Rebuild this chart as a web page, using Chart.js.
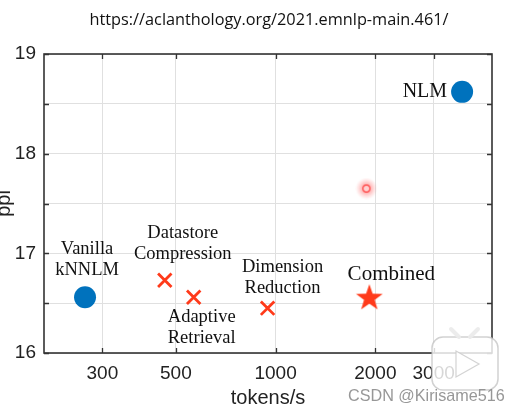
<!DOCTYPE html>
<html>
<head>
<meta charset="utf-8">
<script src="https://cdn.jsdelivr.net/npm/chart.js@4.4.1/dist/chart.umd.min.js"></script>
<style>
  html, body { margin: 0; padding: 0; background: #fff; }
  canvas { display: block; }
</style>
</head>
<body>
<canvas id="chart" width="521" height="412"></canvas>
<script>
// values (x = tokens/s, y = ppl)
const baselineNames = [["Vanilla", "kNNLM"], ["NLM"]];
const baselineSpeed = [266, 3656];
const baselinePpl = [16.56, 18.62];

const methodNames = [["Datastore", "Compression"], ["Adaptive", "Retrieval"], ["Dimension", "Reduction"]];
const methodSpeed = [463, 566, 946];
const methodPpl = [16.73, 16.56, 16.45];

const combinedNames = [["Combined"]];
const combinedSpeed = [1919];
const combinedPpl = [16.56];

// laser pointer dot visible on the slide
const pointerSpeed = [1880];
const pointerPpl = [17.65];

const xTicks = [300, 500, 1000, 2000, 3000];
const yMin = 16, yMax = 19;

// label placement relative to each marker: [dx, dy of first line, align, font size]
const baselineLabelPos = [[2, -48, "center", 18.5], [-15, 0, "right", 20]];
const methodLabelPos = [[18, -47, "center", 18.5], [8, 20, "center", 18.5], [15, -41, "center", 18.5]];
const combinedLabelPos = [[22, -23, "center", 21]];

const BLUE = "#0072BD";
const RED = "#FF3A1A";
const SERIF = "'Liberation Serif', 'DejaVu Serif', serif";
const SANS = "'Liberation Sans', Arial, sans-serif";

function makeStar(size, color) {
  const c = document.createElement("canvas");
  c.width = size; c.height = size;
  const g = c.getContext("2d");
  const cx = size / 2, cy = size / 2 + 1, R = size / 2, r = R * 0.4;
  g.beginPath();
  for (let i = 0; i < 10; i++) {
    const rad = i % 2 === 0 ? R : r;
    const a = -Math.PI / 2 + i * Math.PI / 5;
    g.lineTo(cx + rad * Math.cos(a), cy + rad * Math.sin(a));
  }
  g.closePath();
  g.fillStyle = color;
  g.fill();
  return c;
}

function makePointer(size) {
  const c = document.createElement("canvas");
  c.width = size; c.height = size;
  const g = c.getContext("2d");
  const m = size / 2;
  const grad = g.createRadialGradient(m, m, 2, m, m, m);
  grad.addColorStop(0, "rgba(255,60,60,0.55)");
  grad.addColorStop(1, "rgba(255,120,120,0)");
  g.fillStyle = grad;
  g.fillRect(0, 0, size, size);
  g.beginPath();
  g.arc(m, m, 3, 0, Math.PI * 2);
  g.lineWidth = 1.8;
  g.strokeStyle = "#ff2020";
  g.stroke();
  g.fillStyle = "#ffd0d0";
  g.fill();
  return c;
}

const toPoints = (xs, ys) => xs.map((x, i) => ({ x: x, y: ys[i] }));

const decorations = {
  id: "decorations",
  afterDraw(chart) {
    const { ctx, chartArea: a, scales } = chart;
    const xs = scales.x, ys = scales.y;
    ctx.save();

    // inward ticks and the box
    ctx.strokeStyle = "#333";
    ctx.lineWidth = 1.3;
    ctx.beginPath();
    xTicks.forEach(v => {
      const px = Math.round(xs.getPixelForValue(v)) + 0.5;
      ctx.moveTo(px, a.bottom); ctx.lineTo(px, a.bottom - 5);
      ctx.moveTo(px, a.top); ctx.lineTo(px, a.top + 5);
    });
    for (let v = yMin; v <= yMax; v += 0.5) {
      const py = Math.round(ys.getPixelForValue(v)) + 0.5;
      ctx.moveTo(a.left, py); ctx.lineTo(a.left + 5, py);
      ctx.moveTo(a.right, py); ctx.lineTo(a.right - 5, py);
    }
    ctx.stroke();
    ctx.lineWidth = 1.6;
    ctx.strokeRect(a.left, a.top, a.right - a.left, a.bottom - a.top);

    // point labels
    ctx.fillStyle = "#111";
    ctx.textBaseline = "middle";
    const label = (names, sx, sy, pos) => {
      names.forEach((lines, i) => {
        const px = xs.getPixelForValue(sx[i]);
        const py = ys.getPixelForValue(sy[i]);
        const [dx, dy, align, size] = pos[i];
        ctx.font = size + "px " + SERIF;
        ctx.textAlign = align;
        lines.forEach((t, k) => ctx.fillText(t, px + dx, py + dy + k * 21));
      });
    };
    label(baselineNames, baselineSpeed, baselinePpl, baselineLabelPos);
    label(methodNames, methodSpeed, methodPpl, methodLabelPos);
    label(combinedNames, combinedSpeed, combinedPpl, combinedLabelPos);

    // slide source link
    ctx.font = "16.3px 'Open Sans', " + SANS;
    ctx.fillStyle = "#111";
    ctx.textAlign = "center";
    ctx.fillText("https://aclanthology.org/2021.emnlp-main.461/", 269, 20);

    // video player overlay
    ctx.fillStyle = "rgba(255,255,255,0.82)";
    ctx.strokeStyle = "rgba(190,190,190,0.7)";
    ctx.lineWidth = 1.5;
    ctx.beginPath();
    ctx.roundRect(432, 337, 66, 53, 11);
    ctx.fill(); ctx.stroke();
    ctx.lineWidth = 4;
    ctx.lineCap = "round";
    ctx.strokeStyle = "rgba(235,235,235,0.95)";
    ctx.beginPath();
    ctx.moveTo(451, 329); ctx.lineTo(459, 337);
    ctx.moveTo(478, 329); ctx.lineTo(470, 337);
    ctx.stroke();
    ctx.beginPath();
    ctx.moveTo(456, 351); ctx.lineTo(456, 377); ctx.lineTo(479, 364); ctx.closePath();
    ctx.fillStyle = "rgba(255,255,255,0.95)";
    ctx.fill();
    ctx.lineWidth = 1.2;
    ctx.strokeStyle = "rgba(200,200,200,0.8)";
    ctx.stroke();

    // watermark
    ctx.font = "16.2px " + SANS;
    ctx.fillStyle = "rgba(140,140,140,0.9)";
    ctx.textAlign = "left";
    ctx.fillText("CSDN @Kirisame516", 348, 397);
    ctx.restore();
  }
};

new Chart(document.getElementById("chart"), {
  type: "scatter",
  data: {
    datasets: [
      {
        label: "pointer",
        data: toPoints(pointerSpeed, pointerPpl),
        pointStyle: makePointer(22),
      },
      {
        label: "baselines",
        data: toPoints(baselineSpeed, baselinePpl),
        pointStyle: "circle",
        pointRadius: 11,
        backgroundColor: BLUE,
        borderColor: BLUE,
        borderWidth: 0,
      },
      {
        label: "methods",
        data: toPoints(methodSpeed, methodPpl),
        pointStyle: "crossRot",
        pointRadius: 9.5,
        borderColor: RED,
        borderWidth: 2.8,
      },
      {
        label: "combined",
        data: toPoints(combinedSpeed, combinedPpl),
        pointStyle: makeStar(28, RED),
      },
    ],
  },
  options: {
    responsive: false,
    animation: false,
    events: [],
    layout: { padding: { top: 54, right: 29, left: 0, bottom: 0 } },
    plugins: {
      legend: { display: false },
      tooltip: { enabled: false },
    },
    scales: {
      x: {
        type: "logarithmic",
        min: 200,
        max: 4500,
        afterBuildTicks: (scale) => { scale.ticks = xTicks.map(v => ({ value: v })); },
        afterFit: (scale) => { scale.height = 59; },
        ticks: {
          color: "#222",
          font: { family: SANS, size: 19 },
          padding: 9,
          maxRotation: 0,
          autoSkip: false,
          callback: (v) => String(v),
        },
        grid: { color: "#e0e0e0", lineWidth: 1, drawTicks: false },
        border: { display: false },
        title: {
          display: true,
          text: "tokens/s",
          color: "#222",
          font: { family: SANS, size: 20 },
          padding: { top: 0, bottom: 2 },
        },
      },
      y: {
        min: yMin,
        max: yMax,
        afterFit: (scale) => { scale.width = 44; },
        ticks: {
          stepSize: 0.5,
          color: "#222",
          font: { family: SANS, size: 19 },
          padding: 8,
          callback: (v) => (Number.isInteger(v) ? String(v) : ""),
        },
        grid: { color: "#e0e0e0", lineWidth: 1, drawTicks: false },
        border: { display: false },
        title: {
          display: true,
          text: "ppl",
          color: "#222",
          font: { family: SANS, size: 20 },
          padding: { top: -8, bottom: 0 },
        },
      },
    },
  },
  plugins: [decorations],
});
</script>
</body>
</html>
